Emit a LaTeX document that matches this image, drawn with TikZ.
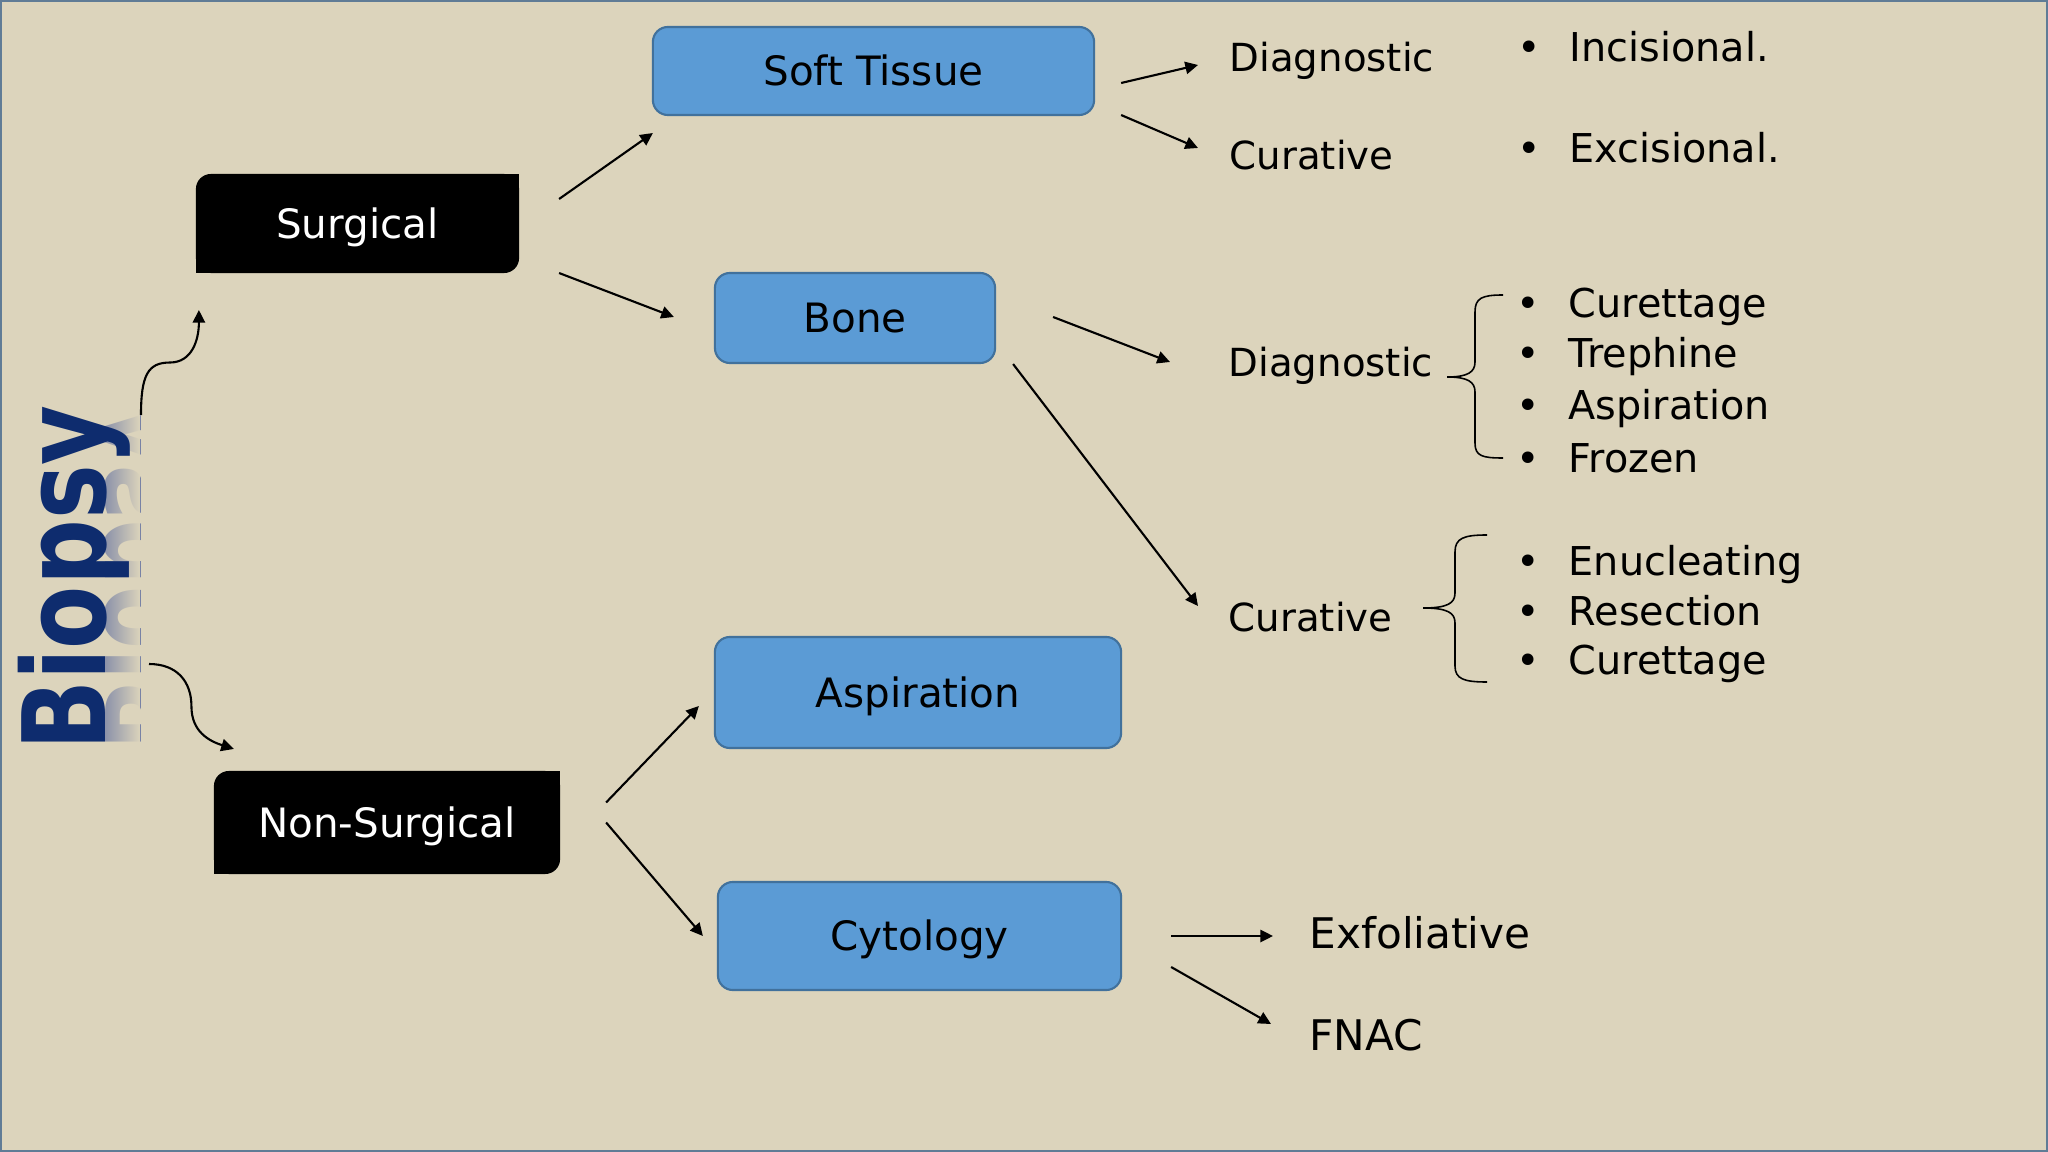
\documentclass[tikz,border=0pt]{standalone}
\usepackage{fontspec}
\setmainfont{DejaVu Sans}
\usetikzlibrary{arrows.meta,calc,fadings}
\definecolor{bgcol}{RGB}{220,212,188}
\definecolor{boxfill}{RGB}{91,155,213}
\definecolor{boxline}{RGB}{65,113,156}
\definecolor{navy}{RGB}{14,44,110}
\definecolor{reflcol}{RGB}{120,130,165}
\definecolor{framecol}{RGB}{96,124,150}
\tikzfading[name=reflfade, left color=transparent!80, right color=transparent!0]
\begin{document}
\begin{tikzpicture}[x=0.01cm,y=-0.01cm,
  bluebox/.style={draw=boxline, line width=0.6pt, fill=boxfill, rounded corners=0.15cm, inner sep=0pt, outer sep=0pt, text height=8.4pt, text depth=0pt, font=\fontsize{11.5}{14}\selectfont, text=black},
  blackbox/.style={fill=black, rounded corners=0.15cm, inner sep=0pt, outer sep=0pt, text height=8.4pt, text depth=0pt, font=\fontsize{11.5}{14}\selectfont, text=white},
  lbl/.style={inner sep=0pt, anchor=base west, font=\fontsize{11}{13}\selectfont},
  item/.style={inner sep=0pt, anchor=base west, font=\fontsize{11.3}{13}\selectfont},
  bigl/.style={inner sep=0pt, anchor=base west, font=\fontsize{12}{14}\selectfont},
  arr/.style={line width=0.6pt, -{Triangle[length=3.6pt,width=3.5pt]}},
  brc/.style={line width=0.45pt},
  bfont/.style={font=\bfseries\fontsize{32.7}{36}\selectfont}
]
\useasboundingbox (0,0) rectangle (2048,1152);
\fill[bgcol] (0,0) rectangle (2048,1152);
\draw[framecol, line width=1.2pt] (0,0) rectangle (2048,1152);

% Biopsy with reflection
\begin{scope}
  \clip (105,380) rectangle (140,780);
  \node[rotate=90, anchor=base, inner sep=0pt, text=reflcol, bfont] (refl) at (105,578) {\scalebox{0.8}[-1]{Biopsy}};
\end{scope}
\fill[bgcol, path fading=reflfade] (105,390) rectangle (140,770);
\node[rotate=90, anchor=base, inner sep=0pt, text=navy, bfont] (biopsy) at (105,578) {\scalebox{0.8}[1]{Biopsy}};

% boxes
\node[blackbox, minimum width=3.23cm, minimum height=0.99cm] (surg) at (357.5,223.5) {Surgical};
\fill[black] (surg.north east) rectangle ([shift={(-20,20)}]surg.north east);
\fill[black] (surg.south west) rectangle ([shift={(20,-20)}]surg.south west);
\node[blackbox, minimum width=3.46cm, minimum height=1.03cm] (nons) at (387,822.5) {Non-Surgical};
\fill[black] (nons.north east) rectangle ([shift={(-20,20)}]nons.north east);
\fill[black] (nons.south west) rectangle ([shift={(20,-20)}]nons.south west);

\node[bluebox, minimum width=4.41cm, minimum height=0.88cm] (soft) at (873.5,71) {Soft Tissue};
\node[bluebox, minimum width=2.80cm, minimum height=0.90cm] (bone) at (855,318) {Bone};
\node[bluebox, minimum width=4.06cm, minimum height=1.11cm] (asp) at (918,692.5) {Aspiration};
\node[bluebox, minimum width=4.03cm, minimum height=1.08cm] (cyt) at (919.5,936) {Cytology};

% labels
\node[lbl] (d1) at (1229,72) {Diagnostic};
\node[lbl] (c1) at (1229,170) {Curative};
\node[lbl] (d2) at (1228,377) {Diagnostic};
\node[lbl] (c2) at (1228,632) {Curative};
\node[item] (i1) at (1569,62) {\llap{•\hspace{8.3pt}}Incisional.};
\node[item] (e1) at (1569,163) {\llap{•\hspace{8.3pt}}Excisional.};
\node[item] (l1) at (1568,318) {\llap{•\hspace{8.3pt}}Curettage};
\node[item] (l2) at (1568,368) {\llap{•\hspace{8.3pt}}Trephine};
\node[item] (l3) at (1568,420) {\llap{•\hspace{8.3pt}}Aspiration};
\node[item] (l4) at (1568,472) {\llap{•\hspace{8.3pt}}Frozen};
\node[item] (m1) at (1568,575) {\llap{•\hspace{8.3pt}}Enucleating};
\node[item] (m2) at (1568,625) {\llap{•\hspace{8.3pt}}Resection};
\node[item] (m3) at (1568,675) {\llap{•\hspace{8.3pt}}Curettage};
\node[bigl] (exf) at (1309,948) {Exfoliative};
\node[bigl] (fnac) at (1309,1050) {FNAC};

% braces
\draw[brc] (1503,295) .. controls (1482,295) and (1475,298) .. (1475,312) -- (1475,362) .. controls (1475,372) and (1468,377) .. (1447,377) .. controls (1468,377) and (1475,382) .. (1475,392) -- (1475,443) .. controls (1475,456) and (1482,458) .. (1503,458);
\draw[brc] (1487,535) .. controls (1464,535) and (1455,538) .. (1455,552) -- (1455,593) .. controls (1455,603) and (1448,608) .. (1423,608) .. controls (1448,608) and (1455,613) .. (1455,623) -- (1455,666) .. controls (1455,679) and (1464,682) .. (1487,682);

% arrows
\draw[arr] ([shift={(40,-24.5)}]surg.east) -- ([shift={(0,18)}]soft.south west);
\draw[arr] ([shift={(40,0)}]surg.south east) -- ([shift={(-41,-1)}]bone.west);
\draw[arr] ([shift={(27,12)}]soft.east) -- ([shift={(-31,-7)}]d1.base west);
\draw[arr] ([shift={(27,0)}]soft.south east) -- ([shift={(-31,-22)}]c1.base west);
\draw[arr] ([shift={(58,-1)}]bone.east) -- ([shift={(-58,-15)}]d2.base west);
\draw[arr] ([shift={(18,1)}]bone.south east) -- ([shift={(-30,-26)}]c2.base west);
\draw[arr] ([shift={(46,-20)}]nons.east) -- ([shift={(-16,13.5)}]asp.west);
\draw[arr] ([shift={(46,0)}]nons.east) -- ([shift={(-15,0)}]cyt.west);
\draw[arr] ([shift={(50,0)}]cyt.east) -- ([shift={(-36,-12)}]exf.base west);
\draw[arr] ([shift={(50,31)}]cyt.east) -- ([shift={(-38,-26)}]fnac.base west);

% curved arrows from Biopsy
\coordinate (bu0) at ([shift={(36,-163)}]biopsy.base);
\coordinate (bu1) at ([shift={(3,37)}]surg.south west);
\draw[arr] (bu0) .. controls +(0,-40) and +(-22,0) .. ($(bu0)!0.5!(bu1)$) .. controls +(22,0) and +(0,30) .. (bu1);
\coordinate (bd0) at ([shift={(44,86)}]biopsy.base);
\coordinate (bd1) at ([shift={(20,-22)}]nons.north west);
\draw[arr] (bd0) .. controls +(28,0) and +(0,-25) .. ($(bd0)!0.5!(bd1)$) .. controls +(0,25) and +(-25,-8) .. (bd1);
\end{tikzpicture}
\end{document}
